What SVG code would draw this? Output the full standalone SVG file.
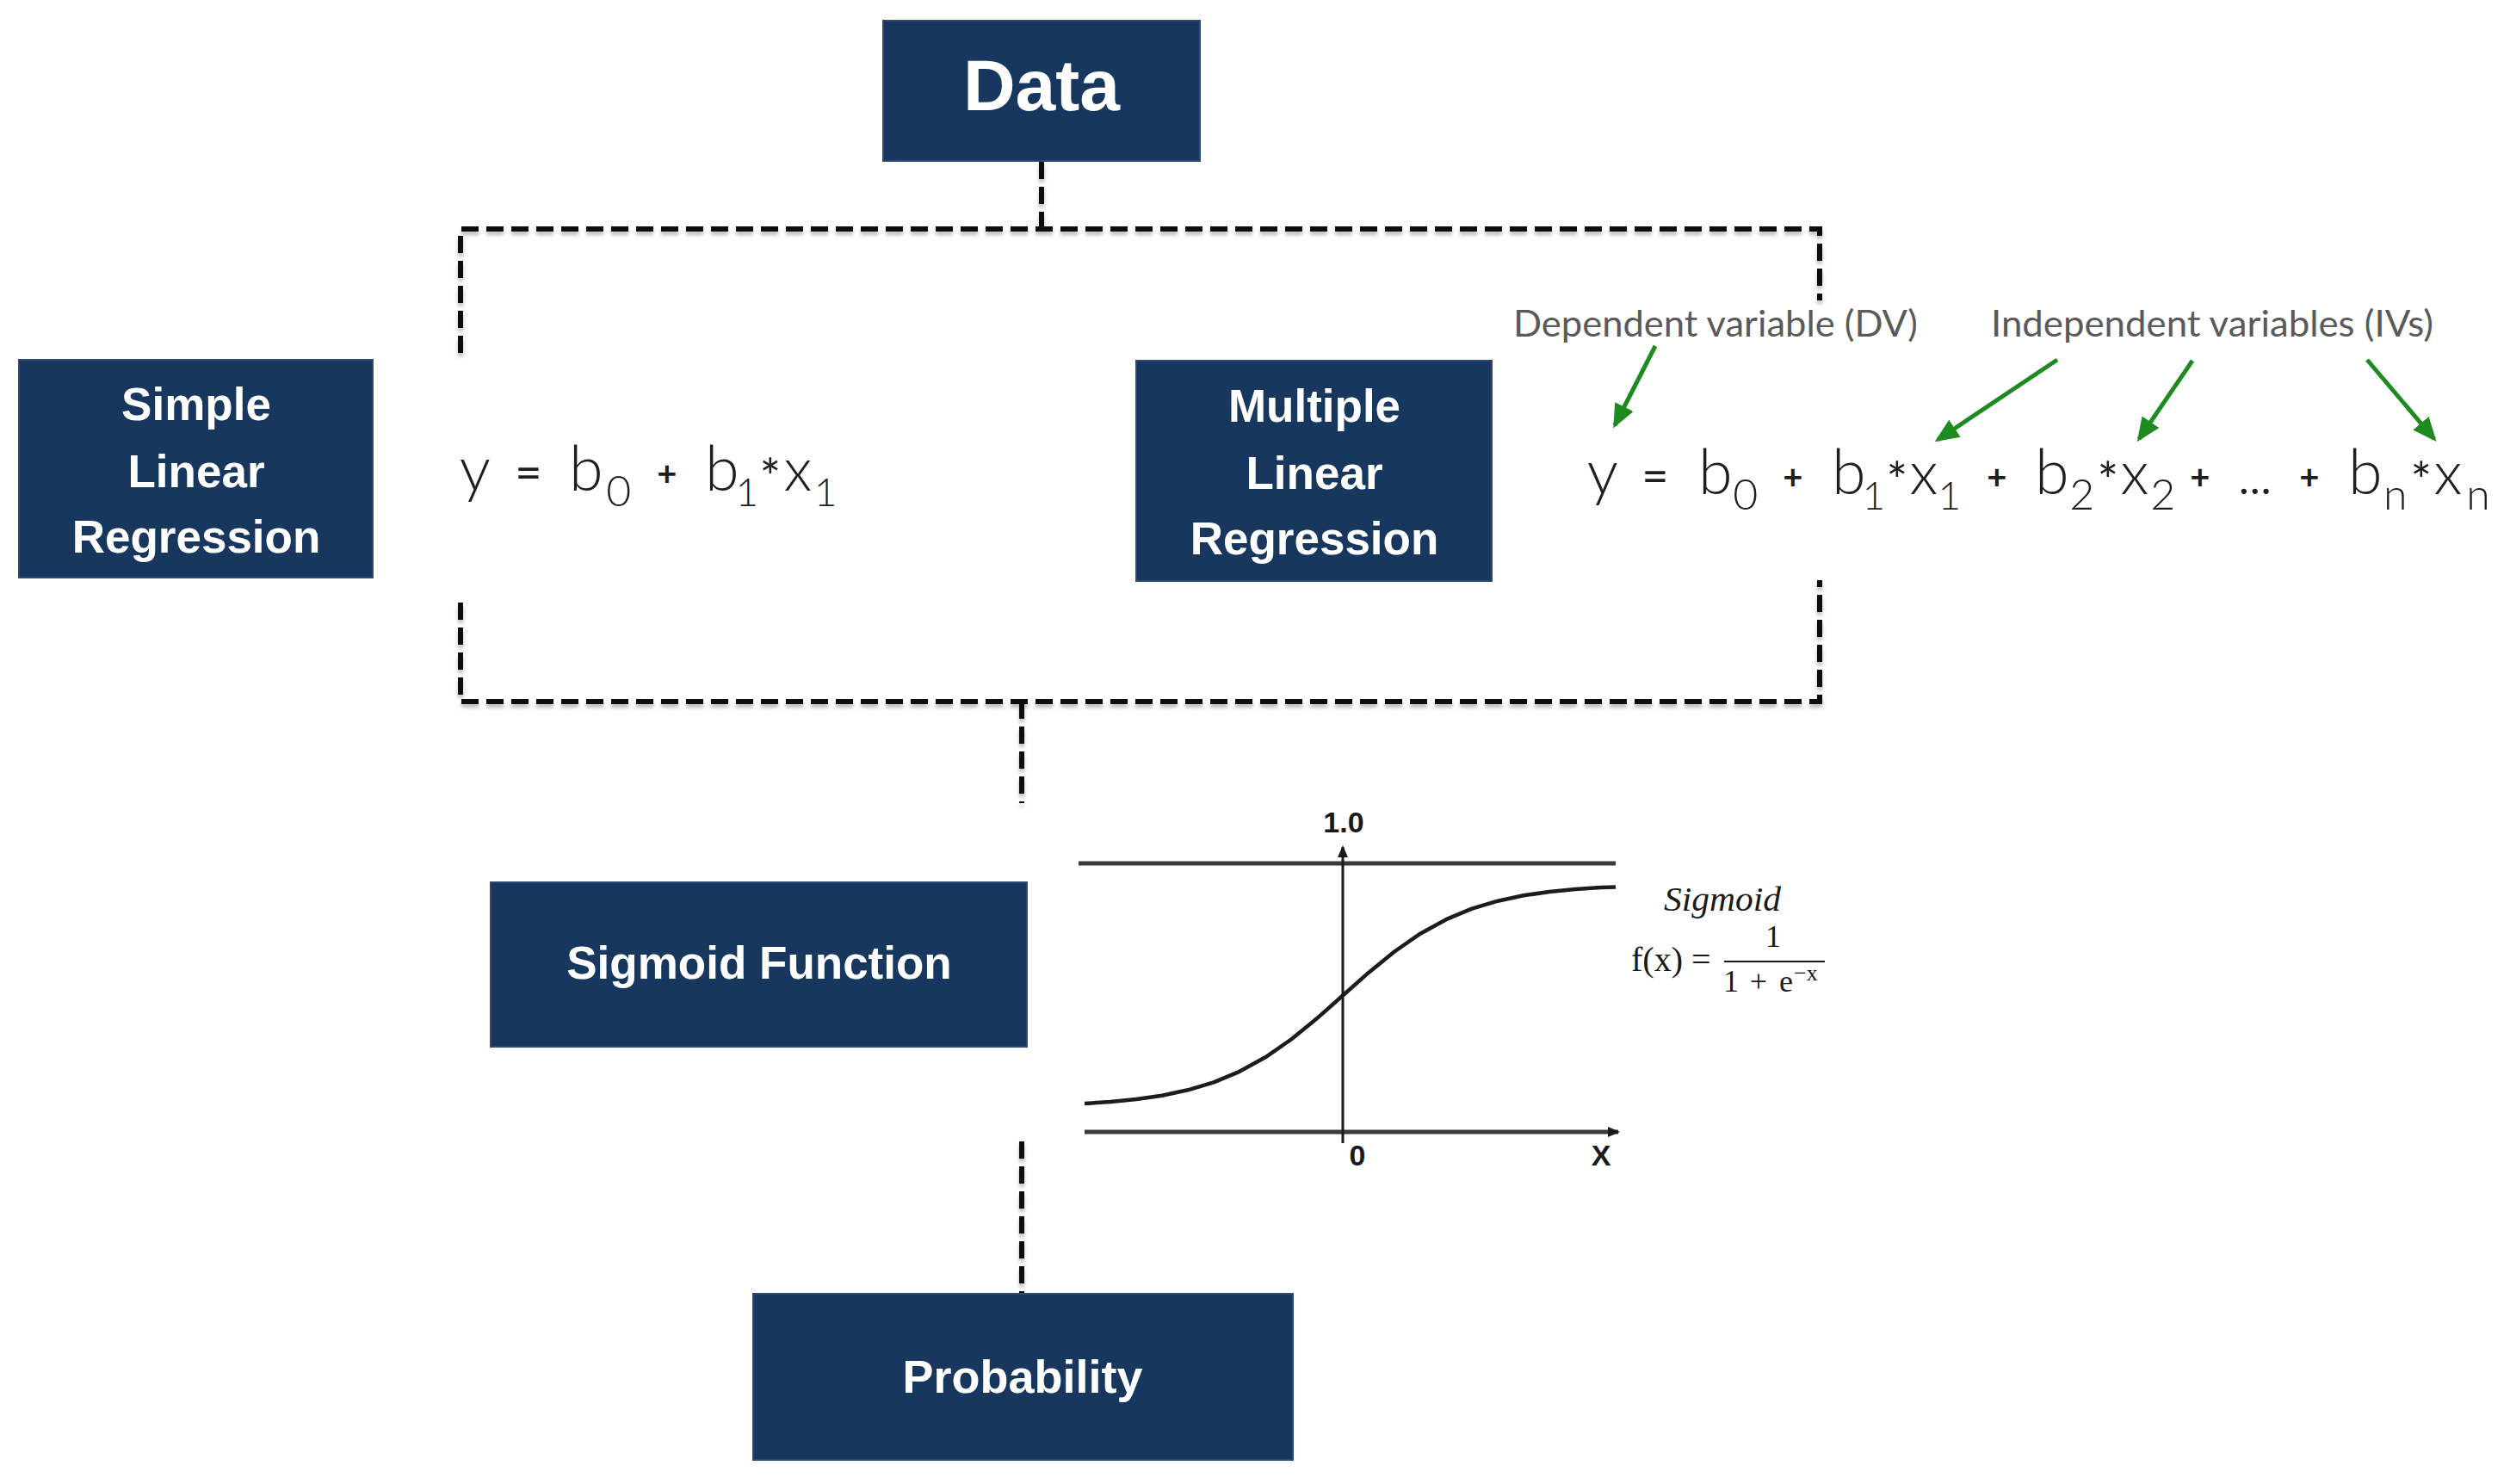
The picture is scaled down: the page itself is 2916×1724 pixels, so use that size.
<svg xmlns="http://www.w3.org/2000/svg" width="2916" height="1724" viewBox="0 0 2916 1724">
<defs>
<style>
.box{fill:#17375e;stroke:#2c4a74;stroke-width:2}
.bt{font-family:"Liberation Sans",Arial,sans-serif;font-weight:bold;fill:#ffffff;text-anchor:middle}
.eq{font-family:Lato,"DejaVu Sans",sans-serif;font-weight:300;fill:#1e1e1e;text-anchor:middle}
.op{font-weight:400}
.pl{font-weight:700}
.st{font-weight:400;font-size:58px}
.dash{fill:none;stroke:#111111;stroke-width:6;stroke-dasharray:20 9}
.garrow{fill:none;stroke:#1f8a1f;stroke-width:5;marker-end:url(#gh)}
.lbl{font-family:Lato,"Liberation Sans",sans-serif;font-size:42px;fill:#5a5a5a}
.ax{fill:none;stroke:#3a3a3a;stroke-width:5}
.ser{font-family:"Liberation Serif","Times New Roman",serif;fill:#1a1a1a}
.axl{font-family:"Liberation Sans",Arial,sans-serif;font-weight:bold;font-size:34px;fill:#1a1a1a;text-anchor:middle}
</style>
<marker id="gh" markerUnits="userSpaceOnUse" markerWidth="28" markerHeight="24" viewBox="0 0 28 24" refX="24" refY="12" orient="auto">
<path d="M0,0 L28,12 L0,24 z" fill="#1f8a1f"/>
</marker>
<marker id="ah" markerUnits="userSpaceOnUse" markerWidth="14" markerHeight="12" viewBox="0 0 14 12" refX="12" refY="6" orient="auto">
<path d="M0,0 L14,6 L0,12 z" fill="#1a1a1a"/>
</marker>
<filter id="sh" x="-5%" y="-20%" width="110%" height="140%">
<feDropShadow dx="0" dy="4" stdDeviation="2" flood-color="#777777" flood-opacity="0.5"/>
</filter>
</defs>
<rect width="2916" height="1724" fill="#ffffff"/>

<g id="connectors" filter="url(#sh)">
<path class="dash" d="M1210,188 V266"/>
<path class="dash" d="M535,410 V266 H2114 V349"/>
<path class="dash" d="M535,700 V815 H2114 V674"/>
<path class="dash" d="M1187,815 V933"/>
<path class="dash" d="M1187,1326 V1502"/>
</g>

<g id="data">
<rect class="box" x="1026" y="24" width="368" height="163"/>
<text class="bt" x="1210" y="128" font-size="84">Data</text>
</g>

<g id="simple-linear-regression">
<rect class="box" x="22" y="418" width="411" height="253"/>
<text class="bt" font-size="53"><tspan x="228" y="488">Simple</tspan><tspan x="228" y="566">Linear</tspan><tspan x="228" y="642">Regression</tspan></text>
</g>

<g id="simple-equation">
<text class="eq">
<tspan x="554" y="570" font-size="72">y</tspan>
<tspan class="op" x="616" y="568" font-size="54">=</tspan>
<tspan x="683" y="570" font-size="72">b</tspan>
<tspan x="721" y="588" font-size="50">0</tspan>
<tspan class="pl" x="777" y="564" font-size="40">+</tspan>
<tspan x="841" y="570" font-size="72">b</tspan>
<tspan x="870" y="588" font-size="46">1</tspan>
<tspan class="st" x="897" y="575">*</tspan>
<tspan x="929" y="570" font-size="70">x</tspan>
<tspan x="959" y="588" font-size="46">1</tspan>
</text>
</g>

<g id="multiple-linear-regression">
<rect class="box" x="1320" y="419" width="413" height="256"/>
<text class="bt" font-size="53"><tspan x="1527" y="490">Multiple</tspan><tspan x="1527" y="568">Linear</tspan><tspan x="1527" y="644">Regression</tspan></text>
</g>

<g id="multiple-equation">
<text class="eq">
<tspan x="1864" y="574" font-size="72">y</tspan>
<tspan class="op" x="1925" y="572" font-size="54">=</tspan>
<tspan x="1995" y="574" font-size="72">b</tspan>
<tspan x="2030" y="592" font-size="50">0</tspan>
<tspan class="pl" x="2085" y="568" font-size="40">+</tspan>
<tspan x="2150" y="574" font-size="72">b</tspan>
<tspan x="2179" y="592" font-size="46">1</tspan>
<tspan class="st" x="2206" y="579">*</tspan>
<tspan x="2237" y="574" font-size="70">x</tspan>
<tspan x="2267" y="592" font-size="46">1</tspan>
<tspan class="pl" x="2322" y="568" font-size="40">+</tspan>
<tspan x="2386" y="574" font-size="72">b</tspan>
<tspan x="2421" y="592" font-size="50">2</tspan>
<tspan class="st" x="2451" y="579">*</tspan>
<tspan x="2482" y="574" font-size="70">x</tspan>
<tspan x="2515" y="592" font-size="50">2</tspan>
<tspan class="pl" x="2558" y="568" font-size="40">+</tspan>
<tspan class="op" x="2622" y="574" font-size="50">…</tspan>
<tspan class="pl" x="2685" y="568" font-size="40">+</tspan>
<tspan x="2750" y="574" font-size="72">b</tspan>
<tspan x="2785" y="592" font-size="50">n</tspan>
<tspan class="st" x="2815" y="579">*</tspan>
<tspan x="2846" y="574" font-size="70">x</tspan>
<tspan x="2879" y="592" font-size="50">n</tspan>
</text>
</g>

<g id="variable-labels">
<text class="lbl" x="1758" y="391" textLength="470" lengthAdjust="spacingAndGlyphs">Dependent variable (DV)</text>
<text class="lbl" x="2313" y="391" textLength="514" lengthAdjust="spacingAndGlyphs">Independent variables (IVs)</text>
<path class="garrow" d="M1923,402 L1876,494"/>
<path class="garrow" d="M2390,418 L2251,511"/>
<path class="garrow" d="M2547,419 L2485,510"/>
<path class="garrow" d="M2750,418 L2828,510"/>
</g>

<g id="sigmoid-function">
<rect class="box" x="570" y="1025" width="623" height="191"/>
<text class="bt" x="882" y="1137" font-size="53">Sigmoid Function</text>
</g>

<g id="sigmoid-graph">
<line class="ax" x1="1253" y1="1003" x2="1877" y2="1003"/>
<line class="ax" x1="1260" y1="1315" x2="1880" y2="1315" stroke-width="4.5" marker-end="url(#ah)"/>
<line x1="1560" y1="1328" x2="1560" y2="984" stroke="#1a1a1a" stroke-width="3" marker-end="url(#ah)"/>
<polyline fill="none" stroke="#1c1c1c" stroke-width="4.5" stroke-linejoin="round" points="1260,1282 1290,1280 1320,1277.1 1350,1272.7 1380,1266.3 1410,1257.3 1440,1244.8 1470,1228.3 1500,1207.5 1530,1183.1 1560,1156.5 1590,1129.9 1620,1105.5 1650,1084.7 1680,1068.2 1710,1055.7 1740,1046.7 1770,1040.3 1800,1035.9 1830,1033 1860,1031 1877,1030.5"/>
<text class="axl" x="1561" y="967">1.0</text>
<text class="axl" x="1577" y="1354">0</text>
<text class="axl" x="1860" y="1354">X</text>
</g>

<g id="sigmoid-formula">
<text class="ser" x="1933" y="1058" font-size="40" font-style="italic" textLength="136" lengthAdjust="spacingAndGlyphs">Sigmoid</text>
<text class="ser" x="1895" y="1128" font-size="40">f(x) =</text>
<text class="ser" x="2060" y="1100" font-size="36" text-anchor="middle">1</text>
<line x1="2003" y1="1117" x2="2120" y2="1117" stroke="#1a1a1a" stroke-width="2.2"/>
<text class="ser" font-size="36" text-anchor="middle"><tspan x="2011" y="1152">1</tspan><tspan x="2043" y="1152">+</tspan><tspan x="2075" y="1152">e</tspan></text>
<text class="ser" x="2084" y="1139" font-size="26">−x</text>
</g>

<g id="probability">
<rect class="box" x="875" y="1503" width="627" height="193"/>
<text class="bt" x="1188" y="1618" font-size="54">Probability</text>
</g>
</svg>
